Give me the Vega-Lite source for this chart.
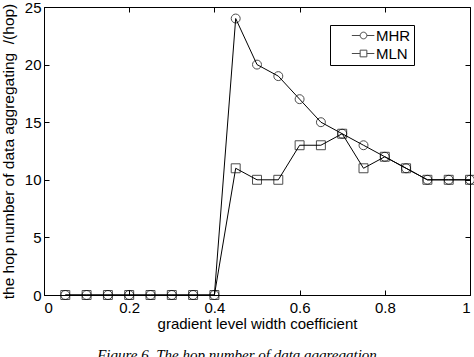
{
  "$schema": "https://vega.github.io/schema/vega-lite/v6.json",
  "width": 426,
  "height": 288,
  "autosize": {"type": "none"},
  "padding": {"left": 44, "top": 7, "right": 4, "bottom": 62},
  "background": "white",
  "title": {
    "text": "Figure 6. The hop number of data aggregation",
    "orient": "bottom",
    "anchor": "middle",
    "font": "Liberation Serif",
    "fontStyle": "italic",
    "fontWeight": "normal",
    "fontSize": 15,
    "color": "black",
    "offset": 17,
    "dx": -20
  },
  "config": {
    "font": "Liberation Sans",
    "view": {"stroke": "black", "strokeWidth": 1},
    "axis": {
      "grid": false,
      "domainColor": "black",
      "tickColor": "black",
      "labelColor": "black",
      "titleColor": "black",
      "labelFont": "Liberation Sans",
      "titleFont": "Liberation Sans",
      "labelFontSize": 15,
      "titleFontSize": 15,
      "titleFontWeight": "normal",
      "tickSize": -5
    }
  },
  "data": {
    "values": [
      {"x": 0.05, "value": 0, "series": "MHR"},
      {"x": 0.10, "value": 0, "series": "MHR"},
      {"x": 0.15, "value": 0, "series": "MHR"},
      {"x": 0.20, "value": 0, "series": "MHR"},
      {"x": 0.25, "value": 0, "series": "MHR"},
      {"x": 0.30, "value": 0, "series": "MHR"},
      {"x": 0.35, "value": 0, "series": "MHR"},
      {"x": 0.40, "value": 0, "series": "MHR"},
      {"x": 0.45, "value": 24, "series": "MHR"},
      {"x": 0.50, "value": 20, "series": "MHR"},
      {"x": 0.55, "value": 19, "series": "MHR"},
      {"x": 0.60, "value": 17, "series": "MHR"},
      {"x": 0.65, "value": 15, "series": "MHR"},
      {"x": 0.70, "value": 14, "series": "MHR"},
      {"x": 0.75, "value": 13, "series": "MHR"},
      {"x": 0.80, "value": 12, "series": "MHR"},
      {"x": 0.85, "value": 11, "series": "MHR"},
      {"x": 0.90, "value": 10, "series": "MHR"},
      {"x": 0.95, "value": 10, "series": "MHR"},
      {"x": 1.00, "value": 10, "series": "MHR"},
      {"x": 0.05, "value": 0, "series": "MLN"},
      {"x": 0.10, "value": 0, "series": "MLN"},
      {"x": 0.15, "value": 0, "series": "MLN"},
      {"x": 0.20, "value": 0, "series": "MLN"},
      {"x": 0.25, "value": 0, "series": "MLN"},
      {"x": 0.30, "value": 0, "series": "MLN"},
      {"x": 0.35, "value": 0, "series": "MLN"},
      {"x": 0.40, "value": 0, "series": "MLN"},
      {"x": 0.45, "value": 11, "series": "MLN"},
      {"x": 0.50, "value": 10, "series": "MLN"},
      {"x": 0.55, "value": 10, "series": "MLN"},
      {"x": 0.60, "value": 13, "series": "MLN"},
      {"x": 0.65, "value": 13, "series": "MLN"},
      {"x": 0.70, "value": 14, "series": "MLN"},
      {"x": 0.75, "value": 11, "series": "MLN"},
      {"x": 0.80, "value": 12, "series": "MLN"},
      {"x": 0.85, "value": 11, "series": "MLN"},
      {"x": 0.90, "value": 10, "series": "MLN"},
      {"x": 0.95, "value": 10, "series": "MLN"},
      {"x": 1.00, "value": 10, "series": "MLN"}
    ]
  },
  "resolve": {"axis": {"x": "independent", "y": "independent"}, "scale": {"shape": "independent"}},
  "layer": [
    {
      "mark": {"type": "line", "color": "black", "strokeWidth": 1},
      "encoding": {
        "x": {
          "field": "x", "type": "quantitative",
          "scale": {"domain": [0, 1], "nice": false},
          "axis": {"values": [0, 0.2, 0.4, 0.6, 0.8, 1], "format": "~g", "title": "gradient level width coefficient", "titlePadding": 1, "labelPadding": 10}
        },
        "y": {
          "field": "value", "type": "quantitative",
          "scale": {"domain": [0, 25], "nice": false},
          "axis": {"values": [0, 5, 10, 15, 20, 25], "title": "the hop number of data aggregating \u00a0/(hop)", "titleFontSize": 15.5, "titlePadding": 8, "labelPadding": 8}
        },
        "detail": {"field": "series"},
        "order": {"field": "x"}
      }
    },
    {
      "mark": {"type": "point", "filled": false, "color": "black", "strokeWidth": 1, "size": 80},
      "encoding": {
        "x": {"field": "x", "type": "quantitative", "axis": null},
        "y": {"field": "value", "type": "quantitative", "axis": null},
        "shape": {
          "field": "series", "type": "nominal",
          "scale": {"domain": ["MHR", "MLN"], "range": ["circle", "square"]},
          "legend": null
        }
      }
    },
    {
      "transform": [{"filter": "datum.x > 2"}],
      "mark": {"type": "point", "filled": false, "color": "black", "strokeWidth": 1, "size": 100},
      "encoding": {
        "x": {"field": "x", "type": "quantitative", "axis": {"orient": "top", "values": [0, 0.2, 0.4, 0.6, 0.8, 1], "labels": false, "title": null, "domain": false}},
        "y": {"field": "value", "type": "quantitative", "axis": {"orient": "right", "values": [0, 5, 10, 15, 20, 25], "labels": false, "title": null, "domain": false}},
        "shape": {
          "field": "series", "type": "nominal",
          "scale": {"domain": ["MHR", "MLN"], "range": ["M-0.33,0H1.33A0.67,0.67 0 1,1 2.67,0A0.67,0.67 0 1,1 1.33,0M2.67,0H4.17", "M-0.33,0H1.33M1.33,-0.67H2.67V0.67H1.33ZM2.67,0H4.17"]},
          "legend": {
            "title": "\u2002",
            "titleOrient": "right",
            "titlePadding": 0,
            "titleFontSize": 15,
            "orient": "none",
            "legendX": 286,
            "legendY": 18,
            "strokeColor": "black",
            "fillColor": "white",
            "padding": 3,
            "rowPadding": 2,
            "symbolSize": 100,
            "symbolStrokeColor": "black",
            "symbolStrokeWidth": 1,
            "symbolOffset": 13,
            "labelOffset": 15,
            "labelFontSize": 15,
            "labelFont": "Liberation Sans",
            "labelColor": "black"
          }
        }
      }
    }
  ]
}
